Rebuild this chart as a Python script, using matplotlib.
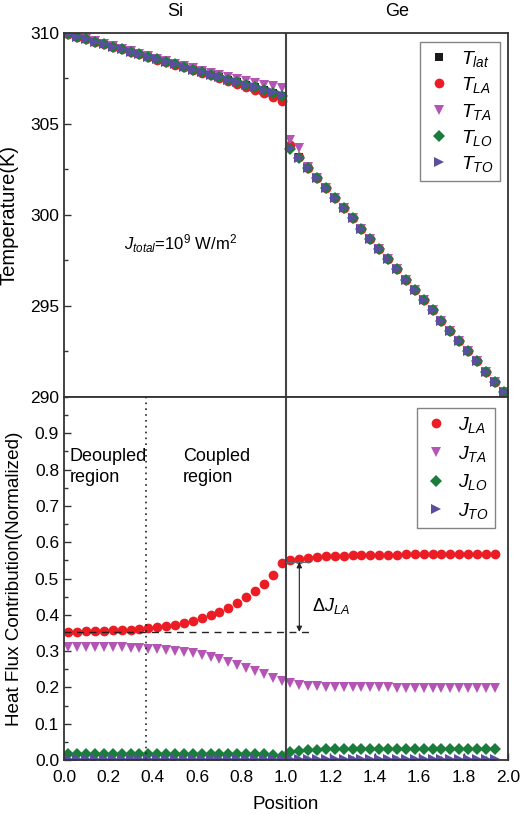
"""
Si/Ge interface: phonon-mode temperatures and heat-flux contributions.
"""

import matplotlib
matplotlib.use('Agg')
import matplotlib.pyplot as plt
from matplotlib.ticker import MultipleLocator

plt.rcParams['font.family'] = ['Liberation Sans', 'DejaVu Sans']
plt.rcParams['mathtext.fontset'] = 'custom'
plt.rcParams['mathtext.it'] = 'Liberation Sans:italic'
plt.rcParams['mathtext.rm'] = 'Liberation Sans'

# =============================================================================
# DATA
# =============================================================================

x_si = [0.02, 0.06, 0.10, 0.14, 0.18, 0.22, 0.26, 0.30, 0.34, 0.38, 0.42, 0.46, 0.50,
        0.54, 0.58, 0.62, 0.66, 0.70, 0.74, 0.78, 0.82, 0.86, 0.90, 0.94, 0.98]
x_ge = [1.02, 1.06, 1.10, 1.14, 1.18, 1.22, 1.26, 1.30, 1.34, 1.38, 1.42, 1.46, 1.50,
        1.54, 1.58, 1.62, 1.66, 1.70, 1.74, 1.78, 1.82, 1.86, 1.90, 1.94, 1.98]

# temperatures (K), Si side
t_lat_si = [309.92, 309.80, 309.67, 309.53, 309.39, 309.25, 309.11, 308.97, 308.83, 308.69,
            308.55, 308.41, 308.27, 308.13, 307.99, 307.85, 307.71, 307.57, 307.43, 307.29,
            307.15, 307.01, 306.87, 306.72, 306.55]
t_la_si = [309.92, 309.80, 309.67, 309.53, 309.39, 309.25, 309.11, 308.97, 308.83, 308.69,
           308.54, 308.40, 308.26, 308.11, 307.96, 307.82, 307.67, 307.52, 307.37, 307.21,
           307.05, 306.88, 306.70, 306.50, 306.25]
t_ta_si = [309.92, 309.80, 309.67, 309.54, 309.40, 309.26, 309.12, 308.99, 308.85, 308.72,
           308.58, 308.45, 308.32, 308.19, 308.06, 307.93, 307.81, 307.69, 307.57, 307.46,
           307.35, 307.25, 307.15, 307.06, 306.98]
t_lo_si = [309.92, 309.80, 309.67, 309.53, 309.39, 309.25, 309.11, 308.97, 308.83, 308.69,
           308.55, 308.41, 308.27, 308.13, 307.99, 307.85, 307.71, 307.57, 307.43, 307.29,
           307.15, 307.01, 306.87, 306.72, 306.55]
t_to_si = [309.92, 309.80, 309.67, 309.53, 309.39, 309.25, 309.11, 308.97, 308.83, 308.69,
           308.55, 308.41, 308.27, 308.13, 307.99, 307.85, 307.71, 307.57, 307.43, 307.29,
           307.16, 307.02, 306.88, 306.74, 306.60]

# temperatures (K), Ge side
t_lat_ge = [303.72, 303.16, 302.60, 302.05, 301.49, 300.94, 300.38, 299.82, 299.24, 298.68,
            298.12, 297.57, 297.01, 296.44, 295.89, 295.33, 294.76, 294.20, 293.63, 293.06,
            292.50, 291.95, 291.40, 290.85, 290.25]
t_la_ge = [303.85, 303.18, 302.60, 302.05, 301.49, 300.94, 300.38, 299.82, 299.24, 298.68,
           298.12, 297.57, 297.01, 296.44, 295.89, 295.33, 294.76, 294.20, 293.63, 293.06,
           292.50, 291.95, 291.40, 290.85, 290.25]
t_ta_ge = [304.10, 303.70, 302.62, 302.05, 301.49, 300.94, 300.38, 299.82, 299.24, 298.68,
           298.12, 297.57, 297.01, 296.44, 295.89, 295.33, 294.76, 294.20, 293.63, 293.06,
           292.50, 291.95, 291.40, 290.85, 290.25]
t_lo_ge = [303.65, 303.14, 302.60, 302.05, 301.49, 300.94, 300.38, 299.82, 299.24, 298.68,
           298.12, 297.57, 297.01, 296.44, 295.89, 295.33, 294.76, 294.20, 293.63, 293.06,
           292.50, 291.95, 291.40, 290.85, 290.25]
t_to_ge = [303.70, 303.15, 302.60, 302.05, 301.49, 300.94, 300.38, 299.82, 299.24, 298.68,
           298.12, 297.57, 297.01, 296.44, 295.89, 295.33, 294.76, 294.20, 293.63, 293.06,
           292.50, 291.95, 291.40, 290.85, 290.25]

# normalized heat flux contributions, Si side
j_la_si = [0.353, 0.354, 0.355, 0.355, 0.356, 0.357, 0.358, 0.359, 0.361, 0.363, 0.366, 0.369,
           0.373, 0.378, 0.384, 0.391, 0.399, 0.409, 0.420, 0.433, 0.448, 0.465, 0.485, 0.510,
           0.543]
j_ta_si = [0.312, 0.312, 0.311, 0.311, 0.311, 0.310, 0.310, 0.309, 0.308, 0.307, 0.306, 0.304,
           0.301, 0.298, 0.294, 0.289, 0.283, 0.277, 0.270, 0.262, 0.254, 0.245, 0.236, 0.227,
           0.218]
j_lo_si = [0.017, 0.017, 0.017, 0.017, 0.017, 0.017, 0.017, 0.017, 0.017, 0.017, 0.017, 0.017,
           0.017, 0.017, 0.017, 0.017, 0.017, 0.017, 0.017, 0.017, 0.017, 0.016, 0.016, 0.015,
           0.011]
j_to_si = [0.003] * 25

# normalized heat flux contributions, Ge side (last point at 1.94)
j_la_ge = [0.552, 0.555, 0.557, 0.559, 0.561, 0.562, 0.563, 0.564, 0.565, 0.565, 0.566, 0.566,
           0.566, 0.567, 0.567, 0.567, 0.567, 0.567, 0.567, 0.567, 0.567, 0.567, 0.567, 0.567]
j_ta_ge = [0.212, 0.208, 0.205, 0.203, 0.202, 0.201, 0.200, 0.200, 0.200, 0.200, 0.200, 0.200,
           0.199, 0.199, 0.199, 0.199, 0.199, 0.199, 0.199, 0.199, 0.199, 0.199, 0.199, 0.199]
j_lo_ge = [0.022, 0.026, 0.028, 0.029, 0.030, 0.030, 0.030, 0.031, 0.031, 0.031, 0.031, 0.031,
           0.031, 0.031, 0.031, 0.031, 0.031, 0.031, 0.031, 0.031, 0.031, 0.031, 0.031, 0.031]
j_to_ge = [0.003] * 24

x_split = 0.37        # decoupled / coupled boundary
j_la_bulk = 0.353     # reference level for Delta J_LA
j_la_iface = 0.545    # J_LA at the interface

# =============================================================================
# PLOTTING
# =============================================================================

C_LAT = '#1a1a1a'
C_LA = '#ec1c24'
C_TA = '#b455b6'
C_LO = '#1b7d3c'
C_TO = '#5a4e9e'
SPINE = '#333333'

modes = [
    ('s', C_LAT, 'lat'),
    ('o', C_LA, 'LA'),
    ('v', C_TA, 'TA'),
    ('D', C_LO, 'LO'),
    ('>', C_TO, 'TO'),
]
sizes = {'s': 6.0, 'o': 7.0, 'v': 7.0, 'D': 6.0, '>': 7.0}

fig = plt.figure(figsize=(5.2, 8.14), dpi=100)
ax_t = fig.add_axes([0.123, 0.5123, 0.854, 0.4472])
ax_j = fig.add_axes([0.123, 0.0663, 0.854, 0.4460])

# --- Temperature panel ---
t_si = [t_lat_si, t_la_si, t_ta_si, t_lo_si, t_to_si]
t_ge = [t_lat_ge, t_la_ge, t_ta_ge, t_lo_ge, t_to_ge]
for (m, c, name), ysi, yge in zip(modes, t_si, t_ge):
    ax_t.plot(x_si + x_ge, ysi + yge, linestyle='none', marker=m, color=c,
              markersize=sizes[m], markeredgewidth=0, label=r'$T_{%s}$' % name)

ax_t.axvline(1.0, color='#444444', lw=1.5)
ax_t.set_xlim(0, 2.0)
ax_t.set_ylim(290, 310)
ax_t.yaxis.set_major_locator(MultipleLocator(5))
ax_t.yaxis.set_minor_locator(MultipleLocator(2.5))
ax_t.set_xticks([])
ax_t.set_ylabel('Temperature(K)', fontsize=14.5)
ax_t.yaxis.set_label_coords(-0.102, 0.5)
ax_t.text(0.27, 298.1, r'$J_{total}$=10$^9$ W/m$^2$', fontsize=12)
for xs, lab in [(0.5, 'Si'), (1.5, 'Ge')]:
    ax_t.text(xs, 1.035, lab, transform=ax_t.get_xaxis_transform(),
              ha='center', va='bottom', fontsize=13)

leg_kw = dict(loc='upper right', borderaxespad=0, fontsize=14, frameon=True,
              fancybox=False, handletextpad=0.45, handlelength=1.3, borderpad=0.36)
leg_t = ax_t.legend(bbox_to_anchor=(0.982, 0.975), labelspacing=0.32, **leg_kw)
leg_t.get_frame().set_edgecolor('#666666')
leg_t.get_frame().set_linewidth(1.0)

# --- Heat flux panel ---
j_si = [j_la_si, j_ta_si, j_lo_si, j_to_si]
j_ge = [j_la_ge, j_ta_ge, j_lo_ge, j_to_ge]
for (m, c, name), ysi, yge in zip(modes[1:], j_si, j_ge):
    ax_j.plot(x_si + x_ge[:len(yge)], ysi + yge, linestyle='none', marker=m, color=c,
              markersize=sizes[m], markeredgewidth=0, label=r'$J_{%s}$' % name)

ax_j.axvline(1.0, color='#444444', lw=1.5)
ax_j.axvline(x_split, color='#222222', lw=1.2, linestyle=(0, (1, 2.5)))
ax_j.plot([0, 1.11], [j_la_bulk, j_la_bulk], color='#222222', lw=1.0, linestyle=(0, (5, 4)))
ax_j.plot([1.0, 1.11], [j_la_iface, j_la_iface], color='#666666', lw=0.8)
ax_j.annotate('', xy=(1.06, j_la_iface), xytext=(1.06, j_la_bulk),
              arrowprops=dict(arrowstyle='<|-|>', color='#222222', lw=0.8,
                              mutation_scale=8, shrinkA=0, shrinkB=0))
ax_j.text(1.115, 0.41, r'$\Delta J_{LA}$', fontsize=13)
ax_j.text(0.025, 0.765, 'Deoupled\nregion', fontsize=13, linespacing=1.3)
ax_j.text(0.535, 0.765, 'Coupled\nregion', fontsize=13, linespacing=1.3)

ax_j.set_xlim(0, 2.0)
ax_j.set_ylim(0, 1.0)
ax_j.set_yticks([0.0, 0.1, 0.2, 0.3, 0.4, 0.5, 0.6, 0.7, 0.8, 0.9])
ax_j.yaxis.set_minor_locator(MultipleLocator(0.05))
ax_j.xaxis.set_major_locator(MultipleLocator(0.2))
ax_j.xaxis.set_minor_locator(MultipleLocator(0.1))
ax_j.set_xlabel('Position', fontsize=13.5, labelpad=8)
ax_j.set_ylabel('Heat Flux Contribution(Normalized)', fontsize=13.6)
ax_j.yaxis.set_label_coords(-0.092, 0.5)

leg_j = ax_j.legend(bbox_to_anchor=(0.971, 0.970), labelspacing=0.45, **leg_kw)
leg_j.get_frame().set_edgecolor('#666666')
leg_j.get_frame().set_linewidth(1.0)

for ax in (ax_t, ax_j):
    for sp in ax.spines.values():
        sp.set_color(SPINE)
        sp.set_linewidth(1.3)
    ax.tick_params(which='both', direction='in', labelsize=12.5, color=SPINE,
                   top=False, right=False)
    ax.tick_params(which='major', length=5, width=1.0)
    ax.tick_params(which='minor', length=3, width=1.0)
ax_j.tick_params(axis='x', pad=7)

fig.savefig('out.png', dpi=100)
